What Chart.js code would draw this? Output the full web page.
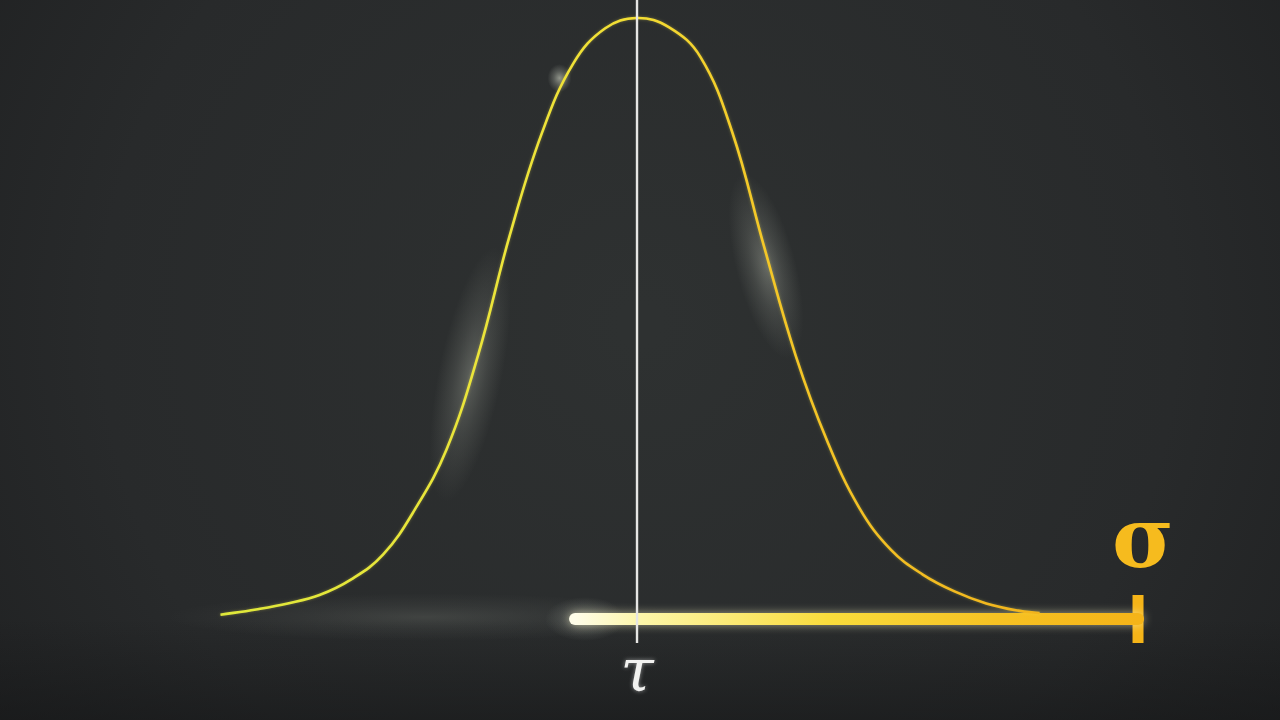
<!DOCTYPE html>
<html>
<head>
<meta charset="utf-8">
<style>
html,body{margin:0;padding:0;background:#1f2122;overflow:hidden;}
canvas{display:block;}
</style>
<script src="https://cdn.jsdelivr.net/npm/chart.js@4.4.1/dist/chart.umd.min.js"></script>
</head>
<body>
<canvas id="c" width="1280" height="720"></canvas>
<script>
// Standardised position (in units of the spread) and relative density
const curveX = [-3.28,-3.0,-2.75,-2.5,-2.25,-2.0,-1.75,-1.5,-1.25,-1.0,-0.75,-0.5,-0.25,0,0.25,0.5,0.75,1.0,1.25,1.5,1.75,2.0,2.25,2.5,2.75,3.0,3.17];
const curveY = [0.007,0.016,0.026,0.040,0.066,0.107,0.182,0.282,0.440,0.640,0.808,0.925,0.983,1.000,0.985,0.935,0.810,0.620,0.438,0.295,0.185,0.115,0.074,0.046,0.026,0.014,0.010];
// Mean marker and spread bar
const meanX = 0;
const meanLineY = [1.03, -0.04];
const barX = [-0.488, 3.945];
const barY = 0;
const capY = [0.04, -0.04];
const meanLabel = "τ";
const spreadLabel = "σ";
const xRange = [-5.016, 5.063];
const yRange = [-0.168, 1.030];

const curveData = curveX.map((x,i)=>({x:x,y:curveY[i]}));
const meanData = meanLineY.map(y=>({x:meanX,y:y}));
const barData = barX.map(x=>({x:x,y:barY}));
const capData = capY.map(y=>({x:barX[1],y:y}));

function hGrad(ctx, chart, x0, x1, stops){
  const xs = chart.scales.x;
  const g = ctx.createLinearGradient(xs.getPixelForValue(x0),0,xs.getPixelForValue(x1),0);
  stops.forEach(s=>g.addColorStop(s[0],s[1]));
  return g;
}

const bgPlugin = {
  id:'bg',
  beforeDraw(chart){
    const ctx = chart.ctx, w = chart.width, h = chart.height;
    ctx.save();
    const g = ctx.createRadialGradient(w*0.5,h*0.45,20,w*0.5,h*0.45,w*0.75);
    g.addColorStop(0,'#2e3131');
    g.addColorStop(0.55,'#282a2b');
    g.addColorStop(1,'#1a1b1c');
    ctx.fillStyle = g;
    ctx.fillRect(0,0,w,h);
    const b = ctx.createLinearGradient(0,h*0.86,0,h);
    b.addColorStop(0,'rgba(20,21,22,0)');
    b.addColorStop(1,'rgba(20,21,22,0.55)');
    ctx.fillStyle = b;
    ctx.fillRect(0,h*0.86,w,h*0.14);
    ctx.restore();
  },
  beforeDatasetsDraw(chart){
    const ctx = chart.ctx, xs = chart.scales.x, ys = chart.scales.y;
    function glow(cx, cy, rx, ry, rot, alpha){
      ctx.save();
      ctx.translate(cx, cy);
      ctx.rotate(rot);
      ctx.scale(rx/100, ry/100);
      const g = ctx.createRadialGradient(0,0,0,0,0,100);
      g.addColorStop(0,'rgba(230,235,215,'+alpha+')');
      g.addColorStop(0.5,'rgba(210,215,200,'+(alpha*0.45)+')');
      g.addColorStop(1,'rgba(200,205,190,0)');
      ctx.fillStyle = g;
      ctx.beginPath();
      ctx.arc(0,0,100,0,Math.PI*2);
      ctx.fill();
      ctx.restore();
    }
    // soft glows attached to curve points
    glow(xs.getPixelForValue(curveX[8])-8, ys.getPixelForValue(curveY[8])+20, 32, 130, 0.2, 0.26);
    glow(xs.getPixelForValue(curveX[17])+2, ys.getPixelForValue(curveY[17])+20, 30, 95, -0.25, 0.30);
    glow(xs.getPixelForValue(curveX[11])-14, ys.getPixelForValue(curveY[11])+15, 12, 14, 0, 0.55);
    // haze along the baseline left of the bar
    glow(xs.getPixelForValue(barX[0])-150, ys.getPixelForValue(barY)-2, 260, 24, 0, 0.12);
    glow(xs.getPixelForValue(barX[0])+10, ys.getPixelForValue(barY), 40, 22, 0, 0.35);
  },
  afterDatasetsDraw(chart){
    const ctx = chart.ctx, xs = chart.scales.x, ys = chart.scales.y;
    ctx.save();
    ctx.textAlign = 'center';
    ctx.textBaseline = 'middle';
    ctx.fillStyle = '#f6bb1e';
    ctx.font = 'bold 84px "DejaVu Serif"';
    ctx.fillText(spreadLabel, xs.getPixelForValue(barX[1])+5, ys.getPixelForValue(capY[0])-50);
    ctx.fillStyle = '#f2f2f0';
    ctx.font = 'italic 60px "DejaVu Serif"';
    ctx.shadowColor = 'rgba(255,255,255,0.5)';
    ctx.shadowBlur = 4;
    ctx.fillText(meanLabel, xs.getPixelForValue(meanX), ys.getPixelForValue(meanLineY[1])+32);
    ctx.restore();
  }
};

const glowPlugin = {
  id:'glowline',
  beforeDatasetDraw(chart, args){
    const ctx = chart.ctx;
    ctx.save();
    const ds = chart.data.datasets[args.index];
    if (ds.glow){
      ctx.shadowColor = ds.glow;
      ctx.shadowBlur = ds.glowBlur || 8;
    }
  },
  afterDatasetDraw(chart){
    chart.ctx.restore();
  }
};

new Chart(document.getElementById('c'), {
  type:'line',
  data:{
    datasets:[
      {
        data: barData,
        borderWidth: 12,
        borderCapStyle: 'round',
        borderColor: (c)=>{ const ch=c.chart; if(!ch.chartArea) return '#f5b418'; return hGrad(ch.ctx, ch, barX[0], barX[1], [[0,'#fffde8'],[0.12,'#fdf6a8'],[0.45,'#f9dc3c'],[0.75,'#f6c223'],[1,'#f5b418']]); },
        pointRadius: 0,
        glow: 'rgba(255,250,200,0.55)', glowBlur: 10,
        clip: false, order: 3
      },
      {
        data: capData,
        borderWidth: 11,
        borderCapStyle: 'butt',
        borderColor: '#f5b418',
        pointRadius: 0,
        clip: false, order: 3
      },
      {
        data: curveData,
        borderWidth: 2.6,
        tension: 0.4,
        borderColor: (c)=>{ const ch=c.chart; if(!ch.chartArea) return '#f0d030'; return hGrad(ch.ctx, ch, curveX[0], curveX[curveX.length-1], [[0,'#dfe83a'],[0.35,'#ece43a'],[0.5,'#f2de34'],[0.65,'#f4c828'],[1,'#f2b41c']]); },
        pointRadius: 0,
        glow: 'rgba(240,230,80,0.35)', glowBlur: 3,
        clip: false, order: 2
      },
      {
        data: meanData,
        borderWidth: 2.4,
        borderColor: '#e6e6e4',
        pointRadius: 0,
        clip: false, order: 1
      }
    ]
  },
  options:{
    responsive:false,
    animation:false,
    devicePixelRatio:1,
    layout:{padding:0},
    plugins:{legend:{display:false}, tooltip:{enabled:false}},
    scales:{
      x:{type:'linear', min:xRange[0], max:xRange[1], display:false},
      y:{type:'linear', min:yRange[0], max:yRange[1], display:false}
    }
  },
  plugins:[bgPlugin, glowPlugin]
});
</script>
</body>
</html>
